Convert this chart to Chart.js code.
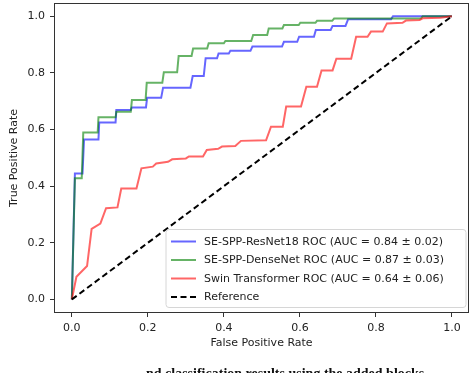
<!DOCTYPE html>
<html><head><meta charset="utf-8">
<script src="https://cdn.jsdelivr.net/npm/chart.js@4"></script>
<style>html,body{margin:0;padding:0;background:#fff}canvas{display:block}</style>
</head><body>
<canvas id="c" width="474" height="373"></canvas>
<script>
const seriesLabels = [
  "SE-SPP-ResNet18 ROC (AUC = 0.84 \u00b1 0.02)",
  "SE-SPP-DenseNet ROC (AUC = 0.87 \u00b1 0.03)",
  "Swin Transformer ROC (AUC = 0.64 \u00b1 0.06)",
  "Reference"
];
const resnetFpr = [0,0.008,0.028,0.032,0.07,0.072,0.115,0.117,0.155,0.158,0.195,0.198,0.235,0.24,0.312,0.318,0.347,0.352,0.382,0.386,0.413,0.417,0.47,0.475,0.553,0.558,0.593,0.598,0.637,0.642,0.681,0.686,0.72,0.727,0.84,0.845,1];
const resnetTpr = [0,0.445,0.445,0.565,0.565,0.625,0.625,0.669,0.669,0.678,0.678,0.712,0.712,0.748,0.748,0.789,0.789,0.852,0.852,0.869,0.869,0.878,0.878,0.893,0.893,0.91,0.91,0.928,0.928,0.952,0.952,0.966,0.966,0.99,0.99,1,1];
const densenetFpr = [0,0.008,0.026,0.03,0.068,0.07,0.115,0.117,0.155,0.158,0.194,0.197,0.238,0.242,0.277,0.281,0.315,0.319,0.356,0.36,0.4,0.404,0.472,0.477,0.514,0.518,0.554,0.558,0.597,0.601,0.641,0.645,0.685,0.69,0.918,0.923,1];
const densenetTpr = [0,0.428,0.428,0.59,0.59,0.643,0.643,0.663,0.663,0.704,0.704,0.765,0.765,0.802,0.802,0.86,0.86,0.886,0.886,0.905,0.905,0.913,0.913,0.934,0.934,0.957,0.957,0.969,0.969,0.977,0.977,0.984,0.984,0.992,0.992,1,1];
const swinFpr = [0,0.012,0.04,0.052,0.075,0.09,0.12,0.13,0.17,0.183,0.213,0.222,0.253,0.264,0.3,0.308,0.345,0.355,0.385,0.395,0.43,0.445,0.511,0.524,0.555,0.564,0.603,0.617,0.645,0.657,0.686,0.696,0.735,0.748,0.778,0.787,0.818,0.829,0.87,0.879,0.915,0.923,0.97,1];
const swinTpr = [0,0.08,0.118,0.249,0.268,0.322,0.325,0.392,0.392,0.463,0.469,0.48,0.486,0.495,0.498,0.505,0.505,0.528,0.532,0.54,0.542,0.56,0.562,0.61,0.61,0.681,0.681,0.751,0.751,0.809,0.809,0.85,0.85,0.928,0.928,0.946,0.946,0.975,0.977,0.985,0.987,0.993,0.995,1];
const referenceFpr = [0,1];
const referenceTpr = [0,1];
const tickValues = [0,0.2,0.4,0.6,0.8,1.0];
const xTitle = "False Positive Rate";
const yTitle = "True Positive Rate";
const captionText = "nd classification results using the added blocks";

const toPts = (xs, ys) => xs.map((x, i) => ({x: x, y: ys[i]}));
const colors = ["rgba(0,0,255,0.6)", "rgba(0,128,0,0.6)", "rgba(255,0,0,0.6)", "#000"];
const FONT = "'DejaVu Sans', sans-serif";

const framePlugin = {
  id: 'frame',
  afterDatasetsDraw(chart) {
    const {ctx, chartArea: a} = chart;
    ctx.save();
    ctx.strokeStyle = '#333';
    ctx.lineWidth = 1;
    ctx.strokeRect(Math.round(a.left) + 0.5, Math.round(a.top) + 0.5, Math.round(a.right - a.left) - 1, Math.round(a.bottom - a.top) - 1);
    ctx.restore();
  }
};

const legendPlugin = {
  id: 'mplLegend',
  afterDraw(chart) {
    const {ctx} = chart;
    const x0 = 166, y0 = 229.5, w = 300, h = 78, r = 3;
    ctx.save();
    ctx.beginPath();
    ctx.roundRect(x0, y0, w, h, r);
    ctx.fillStyle = 'rgba(255,255,255,0.85)';
    ctx.fill();
    ctx.strokeStyle = '#d6d6d6';
    ctx.lineWidth = 1;
    ctx.stroke();
    const ys = [241.5, 260, 278.5, 297];
    chart.data.datasets.forEach((ds, i) => {
      const y = ys[i];
      ctx.beginPath();
      ctx.strokeStyle = ds.borderColor;
      ctx.lineWidth = ds.borderWidth;
      ctx.setLineDash(ds.borderDash || []);
      ctx.moveTo(171, y);
      ctx.lineTo(196, y);
      ctx.stroke();
      ctx.setLineDash([]);
      ctx.fillStyle = '#222';
      ctx.font = "11px " + FONT;
      ctx.textBaseline = 'middle';
      ctx.fillText(ds.label, 204, y + 0.5);
    });
    ctx.restore();
  }
};

const captionPlugin = {
  id: 'caption',
  afterDraw(chart) {
    const {ctx} = chart;
    ctx.save();
    ctx.font = "bold 14px 'Liberation Serif', serif";
    ctx.fillStyle = '#111';
    ctx.textBaseline = 'alphabetic';
    ctx.fillText(captionText, 146, 378);
    ctx.restore();
  }
};

const axisCommon = (title, lo, hi) => ({
  type: 'linear',
  min: lo,
  max: hi,
  afterBuildTicks: (scale) => { scale.ticks = tickValues.map(v => ({value: v})); },
  ticks: {
    color: '#222',
    font: {family: FONT, size: 11},
    padding: 5,
    callback: (v) => Number(v).toFixed(1)
  },
  grid: {drawOnChartArea: false, drawTicks: true, tickLength: 4, color: '#333'},
  border: {display: false},
  title: {display: true, text: title, color: '#222', font: {family: FONT, size: 11}, padding: 0}
});

const zeroPad = (scale) => { scale.paddingLeft = 0; scale.paddingRight = 0; scale.paddingTop = 0; scale.paddingBottom = 0; };
const xAxis = axisCommon(xTitle, -0.047, 1.045);
xAxis.afterFit = (scale) => { scale.height = 37; zeroPad(scale); };
const yAxis = axisCommon(yTitle, -0.048, 1.047);
yAxis.afterFit = (scale) => { scale.width = 46.5; zeroPad(scale); };

new Chart(document.getElementById('c'), {
  type: 'scatter',
  data: {
    datasets: [
      {label: seriesLabels[0], data: toPts(resnetFpr, resnetTpr), borderColor: colors[0], borderWidth: 2, order: 4},
      {label: seriesLabels[1], data: toPts(densenetFpr, densenetTpr), borderColor: colors[1], borderWidth: 2, order: 3},
      {label: seriesLabels[2], data: toPts(swinFpr, swinTpr), borderColor: colors[2], borderWidth: 2, order: 2},
      {label: seriesLabels[3], data: toPts(referenceFpr, referenceTpr), borderColor: colors[3], borderWidth: 2, borderDash: [6, 3.5], order: 1}
    ].map(d => Object.assign(d, {showLine: true, pointRadius: 0, pointHoverRadius: 0, fill: false, tension: 0, backgroundColor: d.borderColor}))
  },
  options: {
    responsive: false,
    animation: false,
    devicePixelRatio: 1,
    layout: {padding: {left: 7.5, right: 5, top: 3, bottom: 23}},
    plugins: {legend: {display: false}, tooltip: {enabled: false}},
    scales: {x: xAxis, y: yAxis}
  },
  plugins: [framePlugin, legendPlugin, captionPlugin]
});
</script>
</body></html>
